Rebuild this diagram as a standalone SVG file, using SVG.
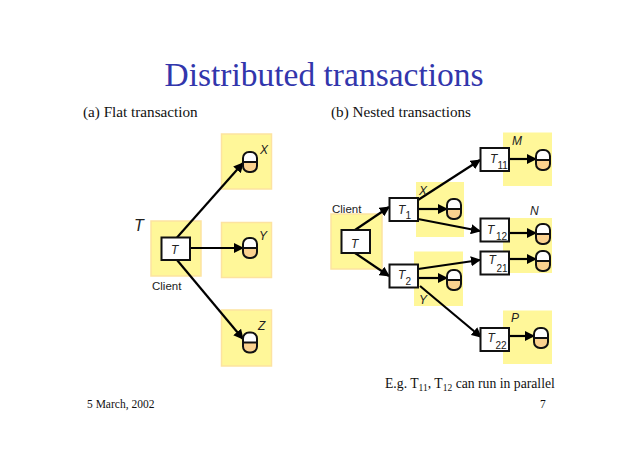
<svg xmlns="http://www.w3.org/2000/svg" width="638" height="451" viewBox="0 0 638 451">
<style>
.sq{fill:#fff799;stroke:#fde3a0;stroke-width:1.5}
.flat{stroke:none}
.box{fill:#fff;stroke:#111;stroke-width:2}
.c{fill:none;stroke:#000;stroke-width:2.2}
.s{font-family:"Liberation Serif",serif;fill:#111}
.h{font-family:"Liberation Sans",Arial,sans-serif;fill:#222}
.i{font-style:italic}
.l{font-size:12px}
.b{font-size:10px}
.top{fill:#fff}.bot{fill:#fbd28f}
.cyl{fill:none;stroke:#111;stroke-width:2}
</style>
<defs>
<marker id="a" viewBox="0 0 10 10" refX="9" refY="5" markerWidth="4.600" markerHeight="4.600" markerUnits="strokeWidth" orient="auto"><path d="M0 0L10 5L0 10Z" fill="#000"/></marker>
<g id="cy">
<path class="bot" d="M0 10H14V14A6 6 0 0 1 8 20H6A6 6 0 0 1 0 14Z"/>
<path class="top" d="M0 10V6A6 6 0 0 1 6 0H8A6 6 0 0 1 14 6V10Z"/>
<rect class="cyl" width="14" height="20" rx="6" ry="6"/>
<path class="cyl" d="M0 10H14"/>
</g>
</defs>
<rect width="638" height="451" fill="#fff"/>
<text x="324" y="85.500" text-anchor="middle" font-size="33.500" class="s" style="fill:#3236ac">Distributed transactions</text>
<text x="83" y="117" font-size="15.200" class="s">(a) Flat transaction</text>
<text x="331" y="117" font-size="15.200" class="s">(b) Nested transactions</text>
<rect x="221.500" y="134" width="50" height="55" class="sq"/>
<rect x="221.500" y="222.500" width="50" height="55" class="sq"/>
<rect x="221.500" y="310" width="50" height="56" class="sq"/>
<rect x="151" y="221" width="50" height="55" class="sq"/>
<rect x="503" y="132.500" width="49" height="53.500" class="sq flat"/>
<rect x="503" y="218" width="49" height="55" class="sq flat"/>
<rect x="503" y="310.500" width="49" height="53.500" class="sq flat"/>
<rect x="416" y="182" width="48" height="55" class="sq flat"/>
<rect x="414" y="251.500" width="49" height="54.500" class="sq flat"/>
<rect x="331" y="214" width="51" height="55" class="sq"/>
<g id="connectors">
<path class="c" marker-end="url(#a)" d="M177 237.500L243 163"/>
<path class="c" marker-end="url(#a)" d="M190 248H243"/>
<path class="c" marker-end="url(#a)" d="M177 260L243 339"/>
<path class="c" marker-end="url(#a)" d="M355 230L389 207"/>
<path class="c" marker-end="url(#a)" d="M355 253L389 276"/>
<path class="c" marker-end="url(#a)" d="M418 200L480 160"/>
<path class="c" marker-end="url(#a)" d="M418 209H447"/>
<path class="c" marker-end="url(#a)" d="M418 219L480 231"/>
<path class="c" marker-end="url(#a)" d="M418 269L480 260"/>
<path class="c" marker-end="url(#a)" d="M418 278H447"/>
<path class="c" marker-end="url(#a)" d="M420 286L481 337"/>
<path class="c" marker-end="url(#a)" d="M509 159H536"/>
<path class="c" marker-end="url(#a)" d="M509 233H536"/>
<path class="c" marker-end="url(#a)" d="M509 259H536"/>
<path class="c" marker-end="url(#a)" d="M509 336H534"/>
</g>
<g id="flat-client">
<text x="134" y="231" font-size="16" class="h i">T</text>
<rect x="161.500" y="237.500" width="28.500" height="22.500" class="box"/>
<text x="171" y="254" class="h i l">T</text>
<text x="152" y="290" font-size="11.500" class="h">Client</text>
</g>
<g id="flat-x"><use href="#cy" x="243" y="152"/><text x="260" y="154" class="h i l">X</text></g>
<g id="flat-y"><use href="#cy" x="243" y="238"/><text x="259" y="240" class="h i l">Y</text></g>
<g id="flat-z"><use href="#cy" x="243" y="332.500"/><text x="258" y="330" class="h i l">Z</text></g>
<g id="nested-client">
<text x="332" y="213" font-size="11.500" class="h">Client</text>
<rect x="341.500" y="230" width="28.500" height="23" class="box"/>
<text x="351" y="248" class="h i l">T</text>
</g>
<g id="t1">
<rect x="389.500" y="198" width="28.500" height="23" class="box"/>
<text x="398" y="213.500" class="h i l">T</text><text x="405.500" y="219" class="h b">1</text>
<use href="#cy" x="447" y="199"/><text x="419" y="195" class="h i l">X</text>
</g>
<g id="t2">
<rect x="389.500" y="264.500" width="28.500" height="23" class="box"/>
<text x="398" y="278.500" class="h i l">T</text><text x="405.500" y="285" class="h b">2</text>
<use href="#cy" x="447" y="270"/><text x="419" y="304" class="h i l">Y</text>
</g>
<g id="t11">
<rect x="480.500" y="148" width="28.500" height="23" class="box"/>
<text x="490" y="163" class="h i l">T</text><text x="497.500" y="169" class="h b">11</text>
<use href="#cy" x="536" y="150"/><text x="512" y="145" class="h i l">M</text>
</g>
<g id="t12">
<rect x="480.500" y="218.500" width="28.500" height="23" class="box"/>
<text x="487" y="233.500" class="h i l">T</text><text x="496" y="240" class="h b">12</text>
<use href="#cy" x="536" y="224"/><text x="530" y="215" class="h i l">N</text>
</g>
<g id="t21">
<rect x="480.500" y="251.500" width="28.500" height="23" class="box"/>
<text x="488.500" y="264" class="h i l">T</text><text x="496.500" y="272" class="h b">21</text>
<use href="#cy" x="536" y="251"/>
</g>
<g id="t22">
<rect x="480.500" y="328" width="28.500" height="23" class="box"/>
<text x="487.500" y="341.500" class="h i l">T</text><text x="495.500" y="349" class="h b">22</text>
<use href="#cy" x="534" y="328"/><text x="511" y="322" class="h i l">P</text>
</g>
<text x="385" y="388" font-size="13.700" class="s">E.g. T<tspan font-size="9.500" dy="3">11</tspan><tspan dy="-3">, T</tspan><tspan font-size="9.500" dy="3">12</tspan><tspan dy="-3"> can run in parallel</tspan></text>
<text x="87" y="408" font-size="11.500" class="s">5 March, 2002</text>
<text x="540" y="408" font-size="11.500" class="s">7</text>
</svg>
